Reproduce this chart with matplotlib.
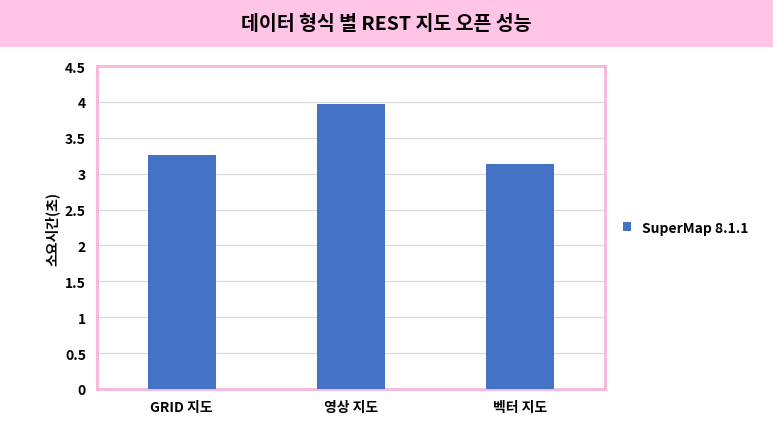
import matplotlib.pyplot as plt
from matplotlib.patches import Rectangle

plt.rcParams['font.family'] = ['Noto Sans CJK KR', 'DejaVu Sans']

categories = ['GRID 지도', '영상 지도', '벡터 지도']
values = [3.26, 3.97, 3.13]
series_name = 'SuperMap 8.1.1'
yticks = [0, 0.5, 1, 1.5, 2, 2.5, 3, 3.5, 4, 4.5]
ytick_labels = ['0', '0.5', '1', '1.5', '2', '2.5', '3', '3.5', '4', '4.5']

W, H = 773, 435
fig = plt.figure(figsize=(W / 100, H / 100), dpi=100)

# pink title band
fig.patches.append(Rectangle((0, 1 - 48 / H), 1, 48 / H, transform=fig.transFigure,
                             facecolor='#FFC4E6', edgecolor='none', zorder=0))
fig.text(0.5, 1 - 24 / H, '데이터 형식 별 REST 지도 오픈 성능', ha='center', va='center',
         fontsize=14, fontweight='bold')

ax = fig.add_axes([97 / W, 1 - 390 / H, (605 - 97) / W, (390 - 67) / H])
x = range(len(categories))
ax.bar(x, values, width=0.4, color='#4472C4', label=series_name, zorder=3)
ax.set_xlim(-0.5, len(categories) - 0.5)
ax.set_ylim(0, 4.5)
ax.set_yticks(yticks)
ax.set_yticklabels(ytick_labels, fontsize=10, fontweight='bold')
ax.set_xticks(list(x))
ax.set_xticklabels(categories, fontsize=10, fontweight='bold')
ax.tick_params(length=0, pad=8)
ax.grid(axis='y', color='#D9D9D9', linewidth=0.8, zorder=0)
for s in ax.spines.values():
    s.set_color('#F7B6DC')
    s.set_linewidth(2)
ax.set_ylabel('소요시간(초)', fontsize=10, fontweight='bold')

ax.legend(loc='center left', bbox_to_anchor=(1.01, 0.5), frameon=False,
          handlelength=0.6, handleheight=0.6, prop={'size': 10, 'weight': 'bold'})

fig.savefig('out.png', dpi=100)
